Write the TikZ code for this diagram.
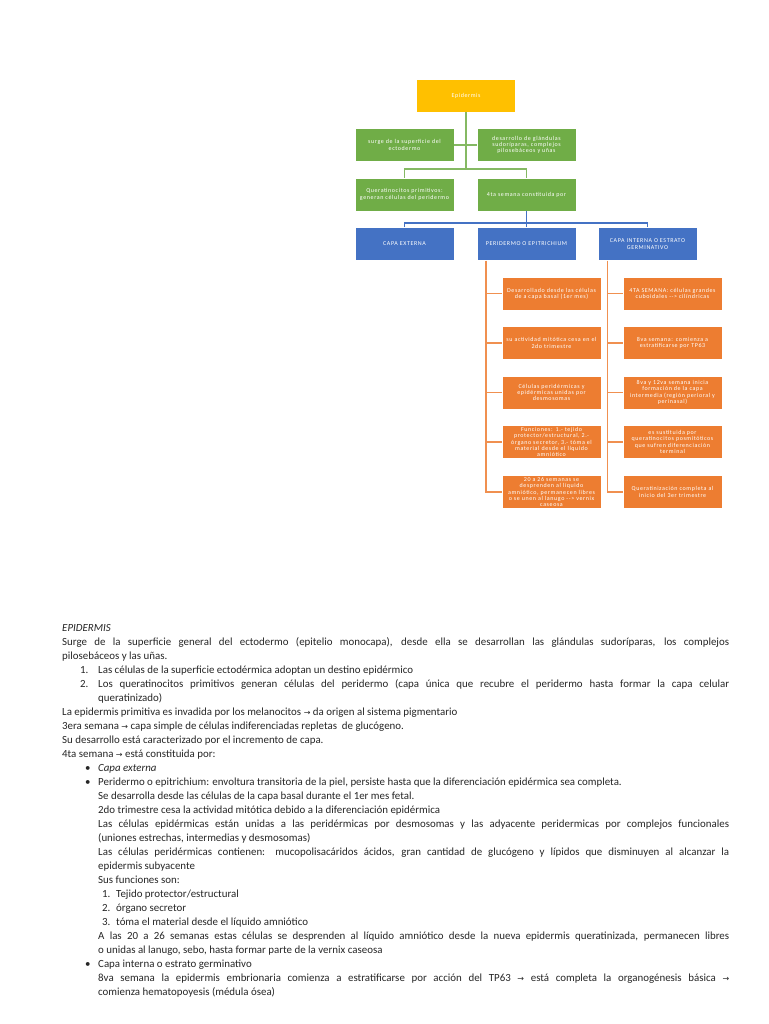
\documentclass[tikz,border=0pt]{standalone}
\usepackage{fontspec}
\setmainfont{Carlito}
\newfontfamily\chartfont{Carlito}[LetterSpace=10]
\newfontfamily\symfont{DejaVu Sans}
\definecolor{cyel}{HTML}{FFC000}
\definecolor{cgrn}{HTML}{70AD47}
\definecolor{cblu}{HTML}{4472C4}
\definecolor{corg}{HTML}{ED7D31}
\definecolor{ctxt}{HTML}{262626}
\newcommand{\rarrow}{{\symfont\fontsize{8}{10}\selectfont →}}
\begin{document}
\begin{tikzpicture}[x=1pt,y=-1pt,
  box/.style={draw=white, line width=0.5pt, text=white, font=\chartfont\fontsize{6}{6.2}\selectfont,
    align=center, inner sep=1pt, text width=97pt, minimum height=33pt},
  ybox/.style={box, fill=cyel},
  gbox/.style={box, fill=cgrn},
  bbox/.style={box, fill=cblu},
  obox/.style={box, fill=corg},
  gline/.style={draw=cgrn!85!white, line width=1.2pt},
  bline/.style={draw=cblu, line width=1.4pt},
  oline/.style={draw=corg!85!white, line width=1.4pt},
  txt/.style={anchor=base west, inner sep=0pt, text=ctxt, font=\fontsize{10.9}{14}\selectfont},
]
\useasboundingbox (0,0) rectangle (768,1024);
\fill[white] (0,0) rectangle (768,1024);

% ---------- chart ----------
\node[ybox] (epi) at (466,95.5) {Epidermis};
\node[gbox] (g1) at (404.5,145) {surge de la superficie del\\ectodermo};
\node[gbox] (g2) at (526.5,145) {desarrollo de glándulas\\sudoríparas, complejos\\pilosebáceos y uñas};
\node[gbox] (g3) at (404.5,194.5) {Queratinocitos primitivos:\\generan células del peridermo};
\node[gbox] (g4) at (526.5,194.5) {4ta semana constituida por};
\node[bbox] (b1) at (404.5,244) {CAPA EXTERNA};
\node[bbox] (b2) at (526.5,244) {PERIDERMO O EPITRICHIUM};
\node[bbox] (b3) at (647.5,244) {CAPA INTERNA O ESTRATO\\GERMINATIVO};

\node[obox] (o1) at (551.5,293.5) {Desarrollado desde las células\\de a capa basal (1er mes)};
\node[obox] (o2) at (551.5,343) {su actividad mitótica cesa en el\\2do trimestre};
\node[obox] (o3) at (551.5,392.5) {Células peridérmicas y\\epidérmicas unidas por\\desmosomas};
\node[obox] (o4) at (551.5,442) {Funciones: 1.- tejido\\protector/estructural, 2.-\\órgano secretor, 3.- tóma el\\material desde el líquido\\amniótico};
\node[obox] (o5) at (551.5,492) {20 a 26 semanas se\\desprenden al líquido\\amniótico, permanecen libres\\o se unen al lanugo --> vernix\\caseosa};

\node[obox] (r1) at (672.5,293.5) {4TA SEMANA: células grandes\\cuboidales --> cilíndricas};
\node[obox] (r2) at (672.5,343) {8va semana: comienza a\\estratificarse por TP63};
\node[obox] (r3) at (672.5,392.5) {8va y 12va semana inicia\\formación de la capa\\intermedia (región perioral y\\perinasal)};
\node[obox] (r4) at (672.5,442) {es sustituida por\\queratinocitos posmitóticos\\que sufren diferenciación\\terminal};
\node[obox] (r5) at (672.5,492) {Queratinización completa al\\inicio del 3er trimestre};

% connectors
\coordinate (gbar) at (466,169);
\draw[gline] (epi.south) -- (gbar);
\draw[gline] (g1.east) -- (g2.west);
\draw[gline] (g3.north) |- (gbar) -| (g4.north);
\coordinate (bbar) at (526.5,223);
\draw[bline] (g4.south) -- (bbar);
\draw[bline] (b1.north) |- (bbar) -| (b3.north);
\draw[bline] (bbar) -- (b2.north);
\coordinate (lx) at (486,260.5);
\coordinate (rx) at (607.5,260.5);
\draw[oline] (lx) |- (o5.west);
\draw[oline] (rx) |- (r5.west);
\foreach \n in {o1,o2,o3,o4} {\draw[oline] (lx |- \n.west) -- (\n.west);}
\foreach \n in {r1,r2,r3,r4} {\draw[oline] (rx |- \n.west) -- (\n.west);}

% ---------- text ----------
\node[txt] (t01) at (62,631.5) {\textit{EPIDERMIS}};
\node[txt] (t02) at (62,645.5) {\makebox[667pt][s]{Surge de la superficie general del ectodermo (epitelio monocapa), desde ella se desarrollan las glándulas sudoríparas, los complejos}};
\node[txt] (t03) at (62,659.5) {pilosebáceos y las uñas.};
\node[txt] (n01) at (80,673.5) {1.};
\node[txt] (t04) at (98,673.5) {Las células de la superficie ectodérmica adoptan un destino epidérmico};
\node[txt] (n02) at (80,687.5) {2.};
\node[txt] (t05) at (98,687.5) {\makebox[631pt][s]{Los queratinocitos primitivos generan células del peridermo (capa única que recubre el peridermo hasta formar la capa celular}};
\node[txt] (t06) at (98,701.5) {queratinizado)};
\node[txt] (t07) at (62,715.5) {La epidermis primitiva es invadida por los melanocitos \rarrow{} da origen al sistema pigmentario};
\node[txt] (t08) at (62,729.5) {3era semana \rarrow{} capa simple de células indiferenciadas repletas \ de glucógeno.};
\node[txt] (t09) at (62,743.5) {Su desarrollo está caracterizado por el incremento de capa.};
\node[txt] (t10) at (62,757.5) {4ta semana \rarrow{} está constituida por:};
\node[txt] (u01) at (85,771.5) {\textbullet};
\node[txt] (t11) at (98,771.5) {\textit{Capa externa}};
\node[txt] (u02) at (85,785.5) {\textbullet};
\node[txt] (t12) at (98,785.5) {Peridermo o epitrichium: envoltura transitoria de la piel, persiste hasta que la diferenciación epidérmica sea completa.};
\node[txt] (t13) at (98,799.5) {Se desarrolla desde las células de la capa basal durante el 1er mes fetal.};
\node[txt] (t14) at (98,813.5) {2do trimestre cesa la actividad mitótica debido a la diferenciación epidérmica};
\node[txt] (t15) at (98,827.5) {\makebox[631pt][s]{Las células epidérmicas están unidas a las peridérmicas por desmosomas y las adyacente peridermicas por complejos funcionales}};
\node[txt] (t16) at (98,841.5) {(uniones estrechas, intermedias y desmosomas)};
\node[txt] (t17) at (98,855.5) {\makebox[631pt][s]{Las células peridérmicas contienen: mucopolisacáridos ácidos, gran cantidad de glucógeno y lípidos que disminuyen al alcanzar la}};
\node[txt] (t18) at (98,869.5) {epidermis subyacente};
\node[txt] (t19) at (98,883.5) {Sus funciones son:};
\node[txt] (n11) at (102,897.5) {1.};
\node[txt] (t20) at (116,897.5) {Tejido protector/estructural};
\node[txt] (n12) at (102,911.5) {2.};
\node[txt] (t21) at (116,911.5) {órgano secretor};
\node[txt] (n13) at (102,925.5) {3.};
\node[txt] (t22) at (116,925.5) {tóma el material desde el líquido amniótico};
\node[txt] (t23) at (98,939.5) {\makebox[631pt][s]{A las 20 a 26 semanas estas células se desprenden al líquido amniótico desde la nueva epidermis queratinizada, permanecen libres}};
\node[txt] (t24) at (98,953.5) {o unidas al lanugo, sebo, hasta formar parte de la vernix caseosa};
\node[txt] (u03) at (85,967.5) {\textbullet};
\node[txt] (t25) at (98,967.5) {Capa interna o estrato germinativo};
\node[txt] (t26) at (98,981.5) {\makebox[631pt][s]{8va semana la epidermis embrionaria comienza a estratificarse por acción del TP63 \rarrow{} está completa la organogénesis básica \rarrow}};
\node[txt] (t27) at (98,995.5) {comienza hematopoyesis (médula ósea)};
\end{tikzpicture}
\end{document}
